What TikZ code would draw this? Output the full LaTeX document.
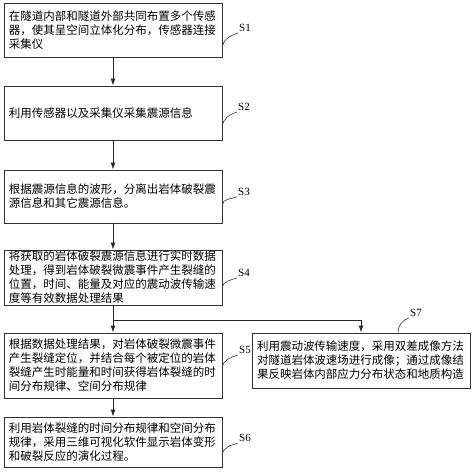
\documentclass[tikz,border=0pt]{standalone}
\usepackage{fontspec}
\setmainfont{Liberation Serif}
\newfontfamily\zhfont{Noto Sans CJK SC}
\usetikzlibrary{arrows.meta,positioning}

\begin{document}
\begin{tikzpicture}[x=1pt,y=-1pt]
\tikzset{stepbox/.style={draw=black!80, line width=0.9pt, text width=208pt, inner xsep=5pt, inner ysep=1pt,
    align=left, font=\zhfont\fontsize{11.5}{14}\selectfont},
  steptag/.style={font=\fontsize{11}{12}\selectfont, inner sep=1pt},
  tagline/.style={draw=black!80, line width=0.6pt},
  arr/.style={draw=black!85, line width=0.9pt, -{Latex[length=7pt,width=5pt]}}}
\useasboundingbox (0,0) rectangle (474,475);
				% main steps
				\node[stepbox, minimum height=54pt] (s1) at (113,30)
					{在隧道内部和隧道外部共同布置多个传感\\器，使其呈空间立体化分布，传感器连接\\采集仪};
				\node[stepbox, minimum height=54pt] (s2) at (113,113)
					{利用传感器以及采集仪采集震源信息};
				\node[stepbox, minimum height=53pt] (s3) at (113,196.5)
					{根据震源信息的波形，分离出岩体破裂震\\源信息和其它震源信息。};
				\node[stepbox, minimum height=55pt] (s4) at (113,277.5)
					{将获取的岩体破裂震源信息进行实时数据\\处理，得到岩体破裂微震事件产生裂缝的\\位置，时间、能量及对应的震动波传输速\\度等有效数据处理结果};
				\node[stepbox, minimum height=65pt] (s5) at (113,365.5)
					{根据数据处理结果，对岩体破裂微震事件\\产生裂缝定位，并结合每个被定位的岩体\\裂缝产生时能量和时间获得岩体裂缝的时\\间分布规律、空间分布规律};
				\node[stepbox, minimum height=50pt] (s6) at (113,442)
					{利用岩体裂缝的时间分布规律和空间分布\\规律，采用三维可视化软件显示岩体变形\\和破裂反应的演化过程。};
				\node[stepbox, minimum height=55pt] (s7) at (361,360.5)
					{利用震动波传输速度，采用双差成像方法\\对隧道岩体波速场进行成像；通过成像结\\果反映岩体内部应力分布状态和地质构造};
				% step tags
				\node[steptag] (t1) at (245,28) {S1};
				\node[steptag] (t2) at (244,107) {S2};
				\node[steptag] (t3) at (244,192) {S3};
				\node[steptag] (t4) at (244,273) {S4};
				\node[steptag] (t5) at (245,350) {S5};
				\node[steptag] (t6) at (245,438) {S6};
				\node[steptag] (t7) at (416,313) {S7};
				\draw[tagline] ([yshift=-18pt]s1.east) to[out=90,in=200] (t1.south west);
				\draw[tagline] ([yshift=-14pt]s2.east) to[out=90,in=200] (t2.south west);
				\draw[tagline] ([yshift=-8.5pt]s3.east) to[out=90,in=200] (t3.south west);
				\draw[tagline] ([yshift=-10.5pt]s4.east) to[out=90,in=200] (t4.south west);
				\draw[tagline] ([yshift=-2.5pt]s5.east) to[out=90,in=200] (t5.south west);
				\draw[tagline] ([yshift=-13pt]s6.east) to[out=90,in=200] (t6.south west);
				\draw[tagline] ([xshift=37pt]s7.north) to[out=90,in=200] (t7.south west);
				% flow
				\coordinate (j) at (113,320);
				\draw[arr] (s1) -- (s2);
				\draw[arr] (s2) -- (s3);
				\draw[arr] (s3) -- (s4);
				\draw[arr] (s4) -- (s5);
				\draw[arr] (j) -| (s7.north);
				\draw[arr] (s5) -- (s6);
\end{tikzpicture}
\end{document}
